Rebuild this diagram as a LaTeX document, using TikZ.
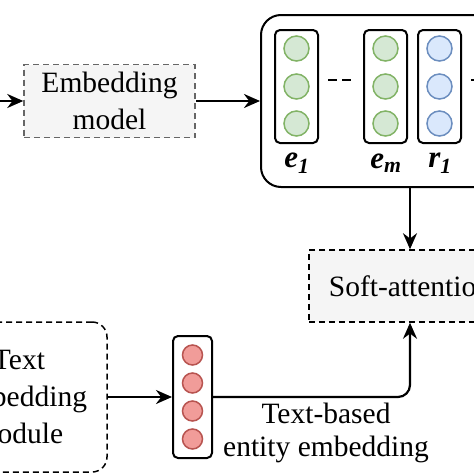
\documentclass[tikz,border=0pt]{standalone}
\usepackage{fontspec}
\setmainfont{Liberation Serif}
\usetikzlibrary{arrows.meta}
\definecolor{unitgreen}{HTML}{D5E8D4}
\definecolor{linegreen}{HTML}{82B366}
\definecolor{unitblue}{HTML}{DAE8FC}
\definecolor{lineblue}{HTML}{6C8EBF}
\definecolor{unitred}{HTML}{F19C99}
\definecolor{linered}{HTML}{B85450}
\begin{document}
\begin{tikzpicture}[x=1pt, y=-1pt, font=\fontsize{29.5}{37}\selectfont,
conn/.style={line width=2.2pt, -{Stealth[length=16pt, width=14pt]}},
block/.style={draw=black!60, dash pattern=on 6pt off 4pt, line width=1.5pt, fill=black!4, align=center, inner sep=0pt},
vec/.style={draw, line width=2pt, rounded corners=5pt, fill=white, minimum width=43pt, minimum height=113pt},
unit/.style={circle, draw, line width=1.5pt, minimum size=25pt, inner sep=0pt},
lbl/.style={font=\fontsize{31}{32}\selectfont\bfseries\itshape}]
\useasboundingbox (0,0) rectangle (474,474);
\clip (0,0) rectangle (474,474);
\node[block, minimum width=171pt, minimum height=73pt] (emb) at (109.5,101) {Embedding\\model};
\node[draw, line width=2pt, rounded corners=20pt, minimum width=298pt, minimum height=172pt] (kg) at (410,101) {};
\node[vec] (e1) at (296.5,86.5) {};
\node[vec] (em) at (385.5,86.5) {};
\node[vec] (r1) at (439.5,86.5) {};
\foreach \c/\f/\l in {e1/unitgreen/linegreen, em/unitgreen/linegreen, r1/unitblue/lineblue}
  \foreach \dy [count=\i] in {38,0,-37}
    \node[unit, fill=\f, draw=\l] (\c-\i) at ([yshift=\dy pt]\c.center) {};
\node[lbl] (le1) at (297,163) {e\textsubscript{1}};
\node[lbl] (lem) at (386,163) {e\textsubscript{m}};
\node[lbl] (lr1) at (440,163) {r\textsubscript{1}};
\coordinate (rdots) at (520,79.5);
\draw[line width=2pt, dash pattern=on 9pt off 5pt, shorten <=9pt, shorten >=10pt] ([yshift=7pt]e1.east) -- ([yshift=7pt]em.west);
\draw[line width=2pt, dash pattern=on 9pt off 5pt, shorten <=9pt] ([yshift=7pt]r1.east) -- (rdots);
\node[block, draw=black, minimum width=202pt, minimum height=72pt] (soft) at (410,286) {Soft-attention};
\node[block, draw=black, fill=white, rounded corners=15pt, minimum width=176pt, minimum height=150pt] (tmod) at (19,397) {Text\\Embedding\\module};
\node[vec, minimum width=39pt, minimum height=122pt] (tv) at (192.5,397) {};
\foreach \dy [count=\i] in {42,14,-14,-42}
  \node[unit, fill=unitred, draw=linered, minimum size=20pt] (tv-\i) at ([yshift=\dy pt]tv.center) {};
\node[align=center, font=\fontsize{29.5}{33}\selectfont] (txtemb) at (326,433) {Text-based\\entity embedding};
\coordinate (in) at (-20,101);
\draw[conn] (in) -- (emb);
\draw[conn] (emb) -- (kg);
\draw[conn] (kg) -- (soft);
\draw[conn] (tmod) -- (tv);
\draw[conn, rounded corners=12pt] (tv) -| (soft);
\end{tikzpicture}
\end{document}
